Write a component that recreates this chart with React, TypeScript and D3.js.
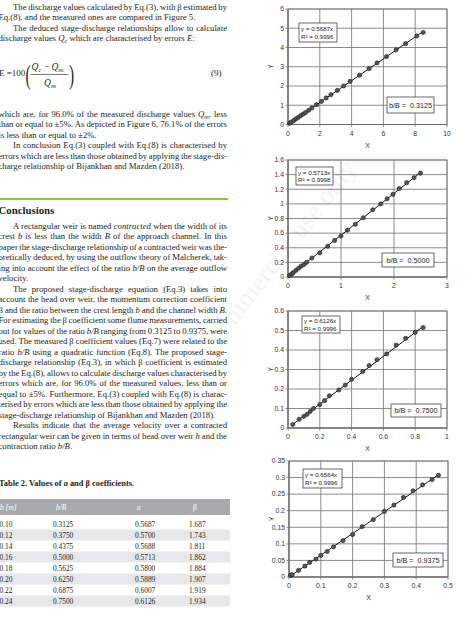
import React, { useEffect, useRef } from "react";
import * as d3 from "d3";

const W = 474;
const H = 619;

// ---------- chart data ----------
const RATIOS = ["0.3125", "0.5000", "0.7500", "0.9375"];
const SLOPES = [0.5687, 0.5713, 0.6126, 0.6564];
const R_SQUARED = ["0.9996", "0.9998", "0.9996", "0.9996"];

const X_TICKS_1 = [0, 2, 4, 6, 8, 10];
const Y_TICKS_1 = [0, 1, 2, 3, 4, 5, 6];
const X_TICKS_2 = [0, 1, 2, 3];
const Y_TICKS_2 = [0, 0.2, 0.4, 0.6, 0.8, 1, 1.2, 1.4, 1.6];
const X_TICKS_3 = [0, 0.2, 0.4, 0.6, 0.8, 1];
const Y_TICKS_3 = [0, 0.1, 0.2, 0.3, 0.4, 0.5, 0.6];
const X_TICKS_4 = [0, 0.1, 0.2, 0.3, 0.4, 0.5];
const Y_TICKS_4 = [0, 0.05, 0.1, 0.15, 0.2, 0.25, 0.3, 0.35];

const X_1 = [0.1, 0.2, 0.35, 0.5, 0.65, 0.8, 0.95, 1.1, 1.3, 1.5, 1.8, 2.1, 2.4, 2.7, 3.1, 3.5, 3.9, 4.5, 5.1, 5.6, 6.2, 6.8, 7.4, 8.1, 8.5];
const Y_1 = [0.06, 0.12, 0.2, 0.29, 0.37, 0.46, 0.54, 0.62, 0.74, 0.86, 1.03, 1.2, 1.38, 1.55, 1.77, 2.0, 2.24, 2.56, 2.9, 3.2, 3.53, 3.88, 4.2, 4.6, 4.78];
const X_2 = [0.03, 0.07, 0.1, 0.15, 0.2, 0.25, 0.3, 0.35, 0.45, 0.6, 0.75, 0.88, 1.0, 1.12, 1.27, 1.42, 1.6, 1.75, 1.87, 1.98, 2.1, 2.24, 2.38, 2.5];
const Y_2 = [0.02, 0.04, 0.06, 0.09, 0.12, 0.15, 0.17, 0.2, 0.26, 0.33, 0.42, 0.5, 0.56, 0.64, 0.72, 0.81, 0.92, 1.0, 1.07, 1.13, 1.21, 1.29, 1.36, 1.42];
const X_3 = [0.03, 0.07, 0.1, 0.12, 0.14, 0.16, 0.2, 0.23, 0.26, 0.32, 0.36, 0.4, 0.47, 0.51, 0.56, 0.62, 0.68, 0.74, 0.8, 0.85];
const Y_3 = [0.018, 0.045, 0.06, 0.07, 0.085, 0.1, 0.12, 0.14, 0.165, 0.195, 0.22, 0.25, 0.29, 0.32, 0.35, 0.38, 0.425, 0.46, 0.49, 0.515];
const X_4 = [0.005, 0.01, 0.03, 0.05, 0.065, 0.085, 0.1, 0.12, 0.14, 0.17, 0.2, 0.23, 0.265, 0.3, 0.33, 0.36, 0.39, 0.42, 0.45, 0.47];
const Y_4 = [0.005, 0.007, 0.02, 0.033, 0.044, 0.054, 0.065, 0.077, 0.091, 0.11, 0.128, 0.152, 0.173, 0.198, 0.217, 0.24, 0.26, 0.278, 0.294, 0.307];

// ---------- table data ----------
const TABLE_B = ["0.10", "0.12", "0.14", "0.16", "0.18", "0.20", "0.22", "0.24"];
const TABLE_RATIO = ["0.3125", "0.3750", "0.4375", "0.5000", "0.5625", "0.6250", "0.6875", "0.7500"];
const TABLE_A = ["0.5687", "0.5700", "0.5688", "0.5713", "0.5800", "0.5889", "0.6007", "0.6126"];
const TABLE_BETA = ["1.687", "1.743", "1.811", "1.862", "1.884", "1.907", "1.919", "1.934"];

// ---------- page text (*italic*, _subscript_) ----------
const PARA_1 = [
  "The discharge values calculated by Eq.(3), with β estimated by",
  "Eq.(8), and the measured ones are compared in Figure 5.",
];
const PARA_2 = [
  "The deduced stage-discharge relationships allow to calculate",
  "discharge values *Q*_c_ which are characterised by errors *E*:",
];
const PARA_3 = [
  "which are, for 96.0% of the measured discharge values *Q*_m_, less",
  "than or equal to ±5%. As depicted in Figure 6, 76.1% of the errors",
  "is less than or equal to ±2%.",
];
const PARA_4 = [
  "In conclusion Eq.(3) coupled with Eq.(8) is characterised by",
  "errors which are less than those obtained by applying the stage-dis-",
  "charge relationship of Bijankhan and Mazden (2018).",
];
const CONC_1 = [
  "A rectangular weir is named *contracted* when the width of its",
  "crest *b* is less than the width *B* of the approach channel. In this",
  "paper the stage-discharge relationship of a contracted weir was the-",
  "oretically deduced, by using the outflow theory of Malcherek, tak-",
  "ing into account the effect of the ratio *b/B* on the average outflow",
  "velocity.",
];
const CONC_2 = [
  "The proposed stage-discharge equation (Eq.3) takes into",
  "account the head over weir, the momentum correction coefficient",
  "β and the ratio between the crest length *b* and the channel width *B*.",
  "For estimating the β coefficient some flume measurements, carried",
  "out for values of the ratio *b/B* ranging from 0.3125 to 0.9375, were",
  "used. The measured β coefficient values (Eq.7) were related to the",
  "ratio *b/B* using a quadratic function (Eq.8). The proposed stage-",
  "discharge relationship (Eq.3), in which β coefficient is estimated",
  "by the Eq.(8), allows to calculate discharge values characterised by",
  "errors which are, for 96.0% of the measured values, less than or",
  "equal to ±5%. Furthermore, Eq.(3) coupled with Eq.(8) is charac-",
  "terised by errors which are less than those obtained by applying the",
  "stage-discharge relationship of Bijankhan and Mazden (2018).",
];
const CONC_3 = [
  "Results indicate that the average velocity over a contracted",
  "rectangular weir can be given in terms of head over weir *h* and the",
  "contraction ratio *b/B*.",
];

const SERIF = "'Liberation Serif', 'Times New Roman', serif";
const SANS = "'Liberation Sans', Arial, sans-serif";
const INK = "#231f20";
const TXT_SIZE = 8.7;
const COL_L = -1.5;
const COL_R = 227;
const INDENT = 14.5;
const PITCH = 10.5;

function segs(str: string, size: number) {
  const parts = str.split(/(\*[^*]+\*|_[^_]+_)/).filter(Boolean);
  let cur = 0;
  return parts.map((p, i) => {
    const sub = p.startsWith("_");
    const it = p.startsWith("*");
    const t = sub || it ? p.slice(1, -1) : p;
    const target = sub ? 2 : 0;
    const dy = target - cur;
    cur = target;
    return (
      <tspan key={i} dy={dy || undefined} fontStyle={it || sub ? "italic" : undefined} fontSize={sub ? size * 0.72 : undefined}>
        {t}
      </tspan>
    );
  });
}

function Paragraph({ lines, y0, indent = true }: { lines: string[]; y0: number; indent?: boolean }) {
  return (
    <g>
      {lines.map((ln, i) => {
        const x = i === 0 && indent ? COL_L + INDENT : COL_L;
        const last = i === lines.length - 1;
        return (
          <text key={i} className={last ? "" : "just"} data-w={COL_R - x} x={x} y={y0 + i * PITCH}
            fontFamily={SERIF} fontSize={TXT_SIZE} fill={INK}>
            {segs(ln, TXT_SIZE)}
          </text>
        );
      })}
    </g>
  );
}

const fmt = (v: number) => String(+v.toFixed(3));

type Layout = { l: number; r: number; t: number; b: number; eq: number[]; rb: number[] };
const LAYOUTS: Layout[] = [
  { l: 288, r: 447, t: 9, b: 124.5, eq: [299, 23, 38, 19], rb: [387, 97, 47, 16] },
  { l: 288, r: 447, t: 160, b: 277, eq: [296, 167, 37, 18], rb: [382, 253, 52, 14] },
  { l: 288, r: 447, t: 311, b: 428, eq: [302, 316, 38, 17], rb: [391, 404, 50, 13] },
  { l: 289, r: 448, t: 461, b: 577, eq: [303, 469, 39, 19], rb: [393, 553, 50, 14] },
];

function Chart({ idx, xs, ys, xTicks, yTicks }: { idx: number; xs: number[]; ys: number[]; xTicks: number[]; yTicks: number[] }) {
  const L = LAYOUTS[idx];
  const x = d3.scaleLinear().domain([xTicks[0], xTicks[xTicks.length - 1]]).range([L.l, L.r]);
  const y = d3.scaleLinear().domain([yTicks[0], yTicks[yTicks.length - 1]]).range([L.b, L.t]);
  const x0 = d3.min(xs) as number;
  const x1 = d3.max(xs) as number;
  const fit = d3.line()([x0, x1].map((v) => [x(v), y(SLOPES[idx] * v)] as [number, number]));
  const grid = "#7f7f7f";
  const [ex, ey, ew, eh] = L.eq;
  const [rx, ry, rw, rh] = L.rb;
  return (
    <g fontFamily={SANS}>
      <rect x={L.l} y={L.t} width={L.r - L.l} height={L.b - L.t} fill="#fff" stroke={grid} strokeWidth={0.9} />
      {xTicks.map((t) => (
        <g key={"x" + t}>
          <line x1={x(t)} x2={x(t)} y1={L.t} y2={L.b + 2.5} stroke={grid} strokeWidth={0.9} />
          <text x={x(t)} y={L.b + 11} fontSize={6.8} textAnchor="middle" fill="#333">{fmt(t)}</text>
        </g>
      ))}
      {yTicks.map((t) => (
        <g key={"y" + t}>
          <line x1={L.l - 2.5} x2={L.r} y1={y(t)} y2={y(t)} stroke={grid} strokeWidth={0.9} />
          <text x={L.l - 4} y={y(t) + 2.3} fontSize={6.8} textAnchor="end" fill="#333">{fmt(t)}</text>
        </g>
      ))}
      <line x1={L.l} x2={L.l} y1={L.t} y2={L.b} stroke="#666" strokeWidth={1} />
      <line x1={L.l} x2={L.r} y1={L.b} y2={L.b} stroke="#666" strokeWidth={1} />
      <path d={fit || ""} stroke="#111" strokeWidth={1} fill="none" />
      {xs.map((v, i) => (
        <circle key={i} cx={x(v)} cy={y(ys[i])} r={2.1} fill="#555" stroke="#1a1a1a" strokeWidth={0.6} />
      ))}
      <text x={(L.l + L.r) / 2} y={L.b + 23} fontSize={7} textAnchor="middle" fill="#333">X</text>
      <text transform={`translate(${L.l - 15.5},${(L.t + L.b) / 2}) rotate(-90)`} fontSize={7} textAnchor="middle" fill="#333">Y</text>
      <rect x={ex} y={ey} width={ew} height={eh} fill="#fff" stroke="#444" strokeWidth={0.8} />
      <text x={ex + 2} y={ey + eh / 2 - 1.3} fontSize={6.2} fill="#222">{`y = ${SLOPES[idx].toFixed(4)}x`}</text>
      <text x={ex + 2} y={ey + eh / 2 + 6.3} fontSize={6.2} fill="#222">{`R² = ${R_SQUARED[idx]}`}</text>
      <rect x={rx} y={ry} width={rw} height={rh} fill="#fff" stroke="#444" strokeWidth={0.8} />
      <text x={rx + rw / 2} y={ry + rh / 2 + 2.6} fontSize={7.2} textAnchor="middle" fill="#222" style={{ whiteSpace: "pre" }}>{`b/B =  ${RATIOS[idx]}`}</text>
    </g>
  );
}

function Table() {
  const rowY = (i: number) => 524 + i * 11;
  const cell = (s: string, x: number, y: number, extra: any = {}) => (
    <text transform={`translate(${x},${y}) scale(0.8,1)`} fontFamily={SERIF} fontSize={9.2} {...extra}>{s}</text>
  );
  return (
    <g>
      <text x={-1} y={486} fontFamily={SERIF} fontSize={8.4} fontWeight="bold" fill={INK}>
        {segs("Table 2. Values of *a* and β coefficients.", 8.4)}
      </text>
      <rect x={-2} y={499} width={232} height={16} fill="#a7a9ac" />
      {cell("b [m]", 0, 510, { fill: "#fff", fontStyle: "italic" })}
      {cell("b/B", 56, 510, { fill: "#fff", fontStyle: "italic" })}
      {cell("a", 137, 510, { fill: "#fff", fontStyle: "italic" })}
      {cell("β", 193, 510, { fill: "#fff" })}
      {TABLE_B.map((b, i) => (
        <g key={i}>
          {i % 2 === 1 && <rect x={-2} y={rowY(i) - 5.5} width={232} height={11} fill="#e6e7e8" />}
          {cell(b, -0.5, rowY(i) + 3, { fill: INK })}
          {cell(TABLE_RATIO[i], 53, rowY(i) + 3, { fill: INK })}
          {cell(TABLE_A[i], 135, rowY(i) + 3, { fill: INK })}
          {cell(TABLE_BETA[i], 189, rowY(i) + 3, { fill: INK })}
        </g>
      ))}
    </g>
  );
}

export default function App() {
  const svgRef = useRef<SVGSVGElement>(null);

  useEffect(() => {
    // justify body lines by spreading word spacing
    d3.select(svgRef.current).selectAll<SVGTextElement, unknown>("text.just").each(function () {
      const el = this;
      const target = +(el.getAttribute("data-w") || 0);
      el.style.wordSpacing = "0px";
      const nat = el.getComputedTextLength();
      const spaces = ((el.textContent || "").match(/ /g) || []).length;
      if (spaces) el.style.wordSpacing = `${(target - nat) / spaces}px`;
    });
  }, []);

  return (
    <svg ref={svgRef} width={W} height={H} viewBox={`0 0 ${W} ${H}`}
      style={{ position: "absolute", left: 0, top: 0, background: "#fff" }}>
      <rect width={W} height={H} fill="#fff" />

      <Paragraph lines={PARA_1} y0={9.5} />
      <Paragraph lines={PARA_2} y0={30.5} />

      {/* Eq. (9) */}
      <g fontFamily={SERIF} fill={INK}>
        <text x={-1} y={75.5} fontSize={9}>E =100</text>
        <text transform="translate(25.5,84) scale(0.55,1)" fontSize={28}>(</text>
        <text x={31.5} y={69.5} fontSize={9.5}>{segs("*Q*_c_ − *Q*_m_", 9.5)}</text>
        <line x1={30.5} x2={68.5} y1={74.5} y2={74.5} stroke={INK} strokeWidth={0.6} />
        <text x={44} y={86} fontSize={9.5}>{segs("*Q*_m_", 9.5)}</text>
        <text transform="translate(69,84) scale(0.55,1)" fontSize={28}>)</text>
        <text x={211} y={75.5} fontSize={9}>(9)</text>
      </g>

      <Paragraph lines={PARA_3} y0={116.5} indent={false} />
      <Paragraph lines={PARA_4} y0={148} />

      <line x1={-1} x2={228} y1={199} y2={199} stroke="#8cc63f" strokeWidth={1.8} />
      <text x={-1.5} y={214} fontFamily={SERIF} fontSize={10.8} fontWeight="bold" fill={INK}>Conclusions</text>

      <Paragraph lines={CONC_1} y0={228.5} />
      <Paragraph lines={CONC_2} y0={228.5 + 6 * PITCH} />
      <Paragraph lines={CONC_3} y0={228.5 + 19 * PITCH} />

      <Table />

      <Chart idx={0} xs={X_1} ys={Y_1} xTicks={X_TICKS_1} yTicks={Y_TICKS_1} />
      <Chart idx={1} xs={X_2} ys={Y_2} xTicks={X_TICKS_2} yTicks={Y_TICKS_2} />
      <Chart idx={2} xs={X_3} ys={Y_3} xTicks={X_TICKS_3} yTicks={Y_TICKS_3} />
      <Chart idx={3} xs={X_4} ys={Y_4} xTicks={X_TICKS_4} yTicks={Y_TICKS_4} />

      {/* faint watermark */}
      <text transform="translate(185,390) rotate(-52)" fontFamily={SERIF} fontSize={27} fill="#000" opacity={0.045}>
        Non-commercial use only
      </text>
    </svg>
  );
}
